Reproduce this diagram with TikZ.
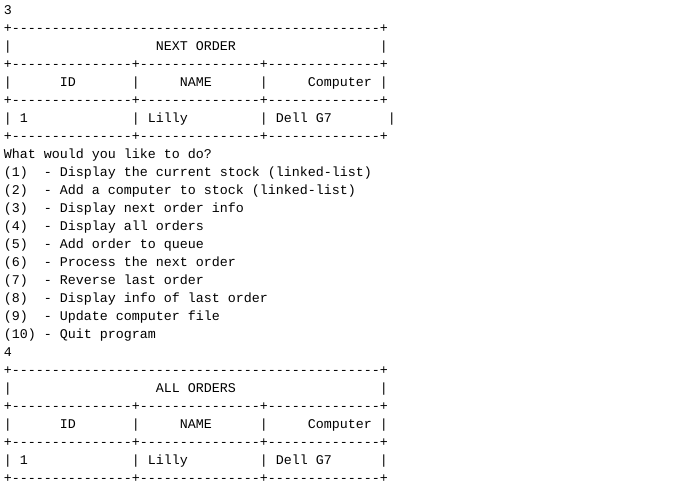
\documentclass[tikz,border=0pt]{standalone}
\usepackage{fontspec}
\setmonofont{Liberation Mono}
\newlength\cw \setlength\cw{8pt}
\newcommand\spc[1]{\hspace*{#1\cw}}
\newcommand\Da{---------------}
\newcommand\Db{--------------}
\newcommand\topb{+\Da-\Da-\Db+}
\newcommand\midb{+\Da+\Da+\Db+}
\tikzset{cline/.style={anchor=base west,inner sep=0pt,outer sep=0pt,text=black,
  font=\ttfamily\fontsize{13.33pt}{18pt}\selectfont}}
\newcommand\consoleline[2]{\node[cline] (l#1) at (4pt,{-(14.5+18*#1)*1pt}) {#2};}
\begin{document}
\begin{tikzpicture}[x=1pt,y=1pt]
\useasboundingbox[fill=white] (0,0) rectangle (685,-489);
\consoleline{0}{3}
\consoleline{1}{\topb}
\consoleline{2}{|\spc{18}NEXT\spc{1}ORDER\spc{18}|}
\consoleline{3}{\midb}
\consoleline{4}{|\spc{6}ID\spc{7}|\spc{5}NAME\spc{6}|\spc{5}Computer\spc{1}|}
\consoleline{5}{\midb}
\consoleline{6}{|\spc{1}1\spc{13}|\spc{1}Lilly\spc{9}|\spc{1}Dell\spc{1}G7\spc{7}|}
\consoleline{7}{\midb}
\consoleline{8}{What would you like to do?}
\consoleline{9}{(1)\spc{2}- Display the current stock (linked-list)}
\consoleline{10}{(2)\spc{2}- Add a computer to stock (linked-list)}
\consoleline{11}{(3)\spc{2}- Display next order info}
\consoleline{12}{(4)\spc{2}- Display all orders}
\consoleline{13}{(5)\spc{2}- Add order to queue}
\consoleline{14}{(6)\spc{2}- Process the next order}
\consoleline{15}{(7)\spc{2}- Reverse last order}
\consoleline{16}{(8)\spc{2}- Display info of last order}
\consoleline{17}{(9)\spc{2}- Update computer file}
\consoleline{18}{(10)\spc{1}- Quit program}
\consoleline{19}{4}
\consoleline{20}{\topb}
\consoleline{21}{|\spc{18}ALL\spc{1}ORDERS\spc{18}|}
\consoleline{22}{\midb}
\consoleline{23}{|\spc{6}ID\spc{7}|\spc{5}NAME\spc{6}|\spc{5}Computer\spc{1}|}
\consoleline{24}{\midb}
\consoleline{25}{|\spc{1}1\spc{13}|\spc{1}Lilly\spc{9}|\spc{1}Dell\spc{1}G7\spc{6}|}
\consoleline{26}{\midb}
\end{tikzpicture}
\end{document}
